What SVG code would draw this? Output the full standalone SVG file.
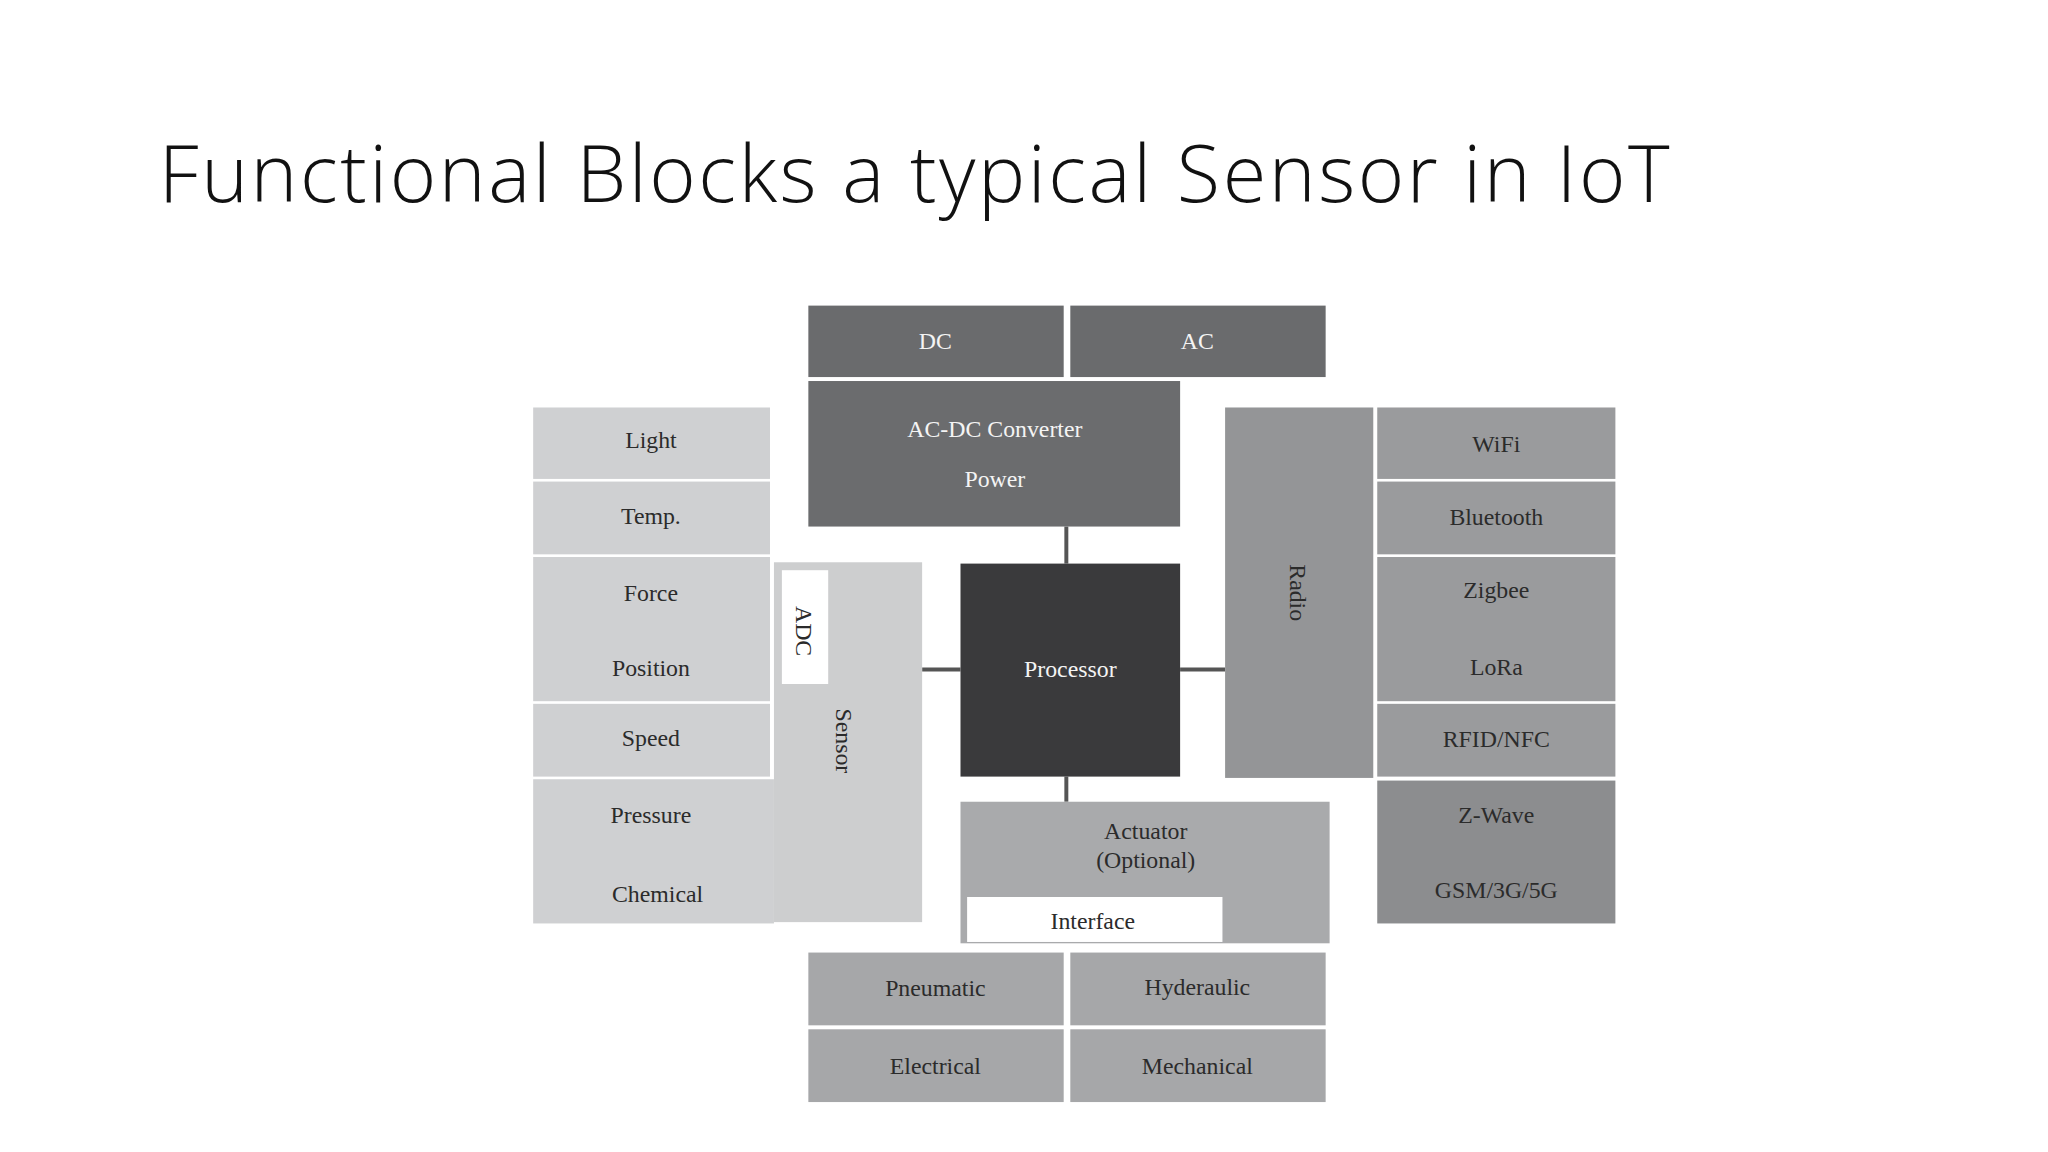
<svg xmlns="http://www.w3.org/2000/svg" width="2048" height="1152" viewBox="0 0 2048 1152">
<style>
text{font-family:"Liberation Serif","Times New Roman",serif;font-size:18px;text-anchor:middle;fill:#2b2b2b}
.w{fill:#f4f4f4}
.t{font-family:"Open Sans","Liberation Sans",sans-serif;font-weight:300;font-size:60px;text-anchor:start;fill:#111}
.l{fill:#cfd0d2}.r{fill:#9a9b9d}.b{fill:#a6a7a9}
line{stroke:#555;stroke-width:3}
</style>
<rect width="2048" height="1152" fill="#fff"/>
<g transform="scale(1.323)">
<text class="t" x="120" y="153" textLength="1142">Functional Blocks a typical Sensor in IoT</text>
<g id="connectors">
<line x1="806" y1="398" x2="806" y2="426"/>
<line x1="697" y1="506" x2="726" y2="506"/>
<line x1="892" y1="506" x2="926" y2="506"/>
<line x1="806" y1="587" x2="806" y2="606"/>
</g>
<g id="dc"><rect x="611" y="231" width="193" height="54" fill="#6a6b6d"/><text class="w" x="707" y="264">DC</text></g>
<g id="ac"><rect x="809" y="231" width="193" height="54" fill="#6a6b6d"/><text class="w" x="905" y="264">AC</text></g>
<g id="power"><rect x="611" y="288" width="281" height="110" fill="#6b6c6e"/><text class="w" x="752" y="330">AC-DC Converter</text><text class="w" x="752" y="368">Power</text></g>
<g id="sensors">
<rect class="l" x="403" y="308" width="179" height="54"/><text x="492" y="339">Light</text>
<rect class="l" x="403" y="364" width="179" height="55"/><text x="492" y="396">Temp.</text>
<rect class="l" x="403" y="421" width="179" height="109"/><text x="492" y="454">Force</text><text x="492" y="511">Position</text>
<rect class="l" x="403" y="532" width="179" height="55"/><text x="492" y="564">Speed</text>
<rect class="l" x="403" y="589" width="182" height="109"/><text x="492" y="622">Pressure</text><text x="497" y="682">Chemical</text>
</g>
<g id="sensor"><rect x="585" y="425" width="112" height="272" fill="#cdcecf"/>
<rect x="591" y="431" width="35" height="86" fill="#fff"/>
<text transform="translate(602,477) rotate(90)">ADC</text>
<text transform="translate(632,560) rotate(90)">Sensor</text></g>
<g id="processor"><rect x="726" y="426" width="166" height="161" fill="#3a3a3c"/><text class="w" x="809" y="512">Processor</text></g>
<g id="radio"><rect x="926" y="308" width="112" height="280" fill="#949597"/><text transform="translate(975,448) rotate(90)">Radio</text></g>
<g id="radios">
<rect class="r" x="1041" y="308" width="180" height="54"/><text x="1131" y="342">WiFi</text>
<rect class="r" x="1041" y="364" width="180" height="55"/><text x="1131" y="397">Bluetooth</text>
<rect class="r" x="1041" y="421" width="180" height="109"/><text x="1131" y="452">Zigbee</text><text x="1131" y="510">LoRa</text>
<rect class="r" x="1041" y="532" width="180" height="55"/><text x="1131" y="565">RFID/NFC</text>
<rect x="1041" y="590" width="180" height="108" fill="#8c8d8f"/><text x="1131" y="622">Z-Wave</text><text x="1131" y="679">GSM/3G/5G</text>
</g>
<g id="actuator"><rect x="726" y="606" width="279" height="107" fill="#a9aaac"/><text x="866" y="634">Actuator</text><text x="866" y="656">(Optional)</text>
<rect x="731" y="678" width="193" height="34" fill="#fff"/><text x="826" y="702">Interface</text></g>
<g id="actuators">
<rect class="b" x="611" y="720" width="193" height="55"/><text x="707" y="753">Pneumatic</text>
<rect class="b" x="809" y="720" width="193" height="55"/><text x="905" y="752">Hyderaulic</text>
<rect class="b" x="611" y="778" width="193" height="55"/><text x="707" y="812">Electrical</text>
<rect class="b" x="809" y="778" width="193" height="55"/><text x="905" y="812">Mechanical</text>
</g>
</g>
</svg>
